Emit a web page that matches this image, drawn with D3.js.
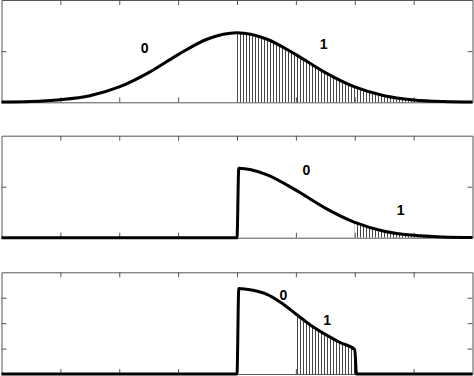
<!DOCTYPE html>
<html>
<head>
<meta charset="utf-8">
<script src="https://cdn.jsdelivr.net/npm/d3@7"></script>
<style>
  html, body { margin: 0; padding: 0; background: #fff; }
  svg { display: block; }
</style>
</head>
<body>
<script>
// shared x axis
const xDomain = [-4, 4];
const xTicks = [-3, -2, -1, 0, 1, 2, 3];

// panel 1: full bell curve, right half hatched
const p1X = [-4, -3.5, -3, -2.5, -2, -1.5, -1, -0.5, 0, 0.5, 1, 1.5, 2, 2.5, 3, 3.5, 4];
const p1Y = [0.002, 0.007, 0.025, 0.064, 0.15, 0.29, 0.466, 0.619, 0.68, 0.619, 0.466, 0.29, 0.15, 0.064, 0.023, 0.007, 0.002];
const p1Hatch = [0, 4];
const p1YTicks = [0.5];
const p1Labels = [{ t: "0", x: -1.57, y: 0.53 }, { t: "1", x: 1.47, y: 0.57 }];

// panel 2: truncated at 0, tail hatched
const p2X = [-4, 0, 0.03, 0.5, 1, 1.5, 2, 2.5, 3, 3.5, 4];
const p2Y = [0, 0, 0.68, 0.619, 0.466, 0.29, 0.15, 0.064, 0.023, 0.007, 0.002];
const p2Hatch = [2, 4];
const p2YTicks = [0.5];
const p2Labels = [{ t: "0", x: 1.18, y: 0.665 }, { t: "1", x: 2.78, y: 0.275 }];

// panel 3: truncated at 0 and 2, middle hatched
const p3X = [-4, 0, 0.03, 0.25, 0.5, 0.75, 1, 1.25, 1.5, 1.75, 2.0, 2.03, 4];
const p3Y = [0, 0, 0.84, 0.825, 0.785, 0.70, 0.59, 0.48, 0.39, 0.31, 0.24, 0, 0];
const p3Hatch = [1, 2.03];
const p3YTicks = [0.25, 0.5, 0.75];
const p3Labels = [{ t: "0", x: 0.79, y: 0.78 }, { t: "1", x: 1.53, y: 0.535 }];

const width = 474, height = 376;
const xLeft = 1.5, xRight = 472.5;

const panels = [
  { xs: p1X, ys: p1Y, hatch: p1Hatch, yTicks: p1YTicks, labels: p1Labels, top: 0, bottom: 102.3 },
  { xs: p2X, ys: p2Y, hatch: p2Hatch, yTicks: p2YTicks, labels: p2Labels, top: 135.7, bottom: 237.7 },
  { xs: p3X, ys: p3Y, hatch: p3Hatch, yTicks: p3YTicks, labels: p3Labels, top: 272.3, bottom: 374 }
];

const svg = d3.select("body").append("svg")
  .attr("width", width)
  .attr("height", height)
  .attr("viewBox", [0, 0, width, height]);

const defs = svg.append("defs");
const pat = defs.append("pattern")
  .attr("id", "vhatch")
  .attr("patternUnits", "userSpaceOnUse")
  .attr("width", 3)
  .attr("height", 10);
pat.append("line")
  .attr("x1", 0.5).attr("x2", 0.5)
  .attr("y1", 0).attr("y2", 10)
  .attr("stroke", "#444")
  .attr("stroke-width", 1);

const x = d3.scaleLinear().domain(xDomain).range([xLeft, xRight]);

panels.forEach((p, i) => {
  const y = d3.scaleLinear().domain([0, 1]).range([p.bottom, p.top]);
  const pts = p.xs.map((v, k) => [v, p.ys[k]]);
  const g = svg.append("g");

  // hatched region under the curve
  const clipId = "clip" + i;
  defs.append("clipPath").attr("id", clipId)
    .append("rect")
    .attr("x", x(p.hatch[0]))
    .attr("y", p.top)
    .attr("width", x(p.hatch[1]) - x(p.hatch[0]))
    .attr("height", p.bottom - p.top);

  const area = d3.area()
    .x(d => x(d[0]))
    .y0(y(0))
    .y1(d => y(d[1]))
    .curve(d3.curveMonotoneX);

  g.append("path")
    .datum(pts)
    .attr("d", area)
    .attr("fill", "url(#vhatch)")
    .attr("clip-path", `url(#${clipId})`);

  // box with inward ticks
  const axisStyle = sel => {
    sel.selectAll("path").attr("stroke", "#555").attr("stroke-width", 1);
    sel.selectAll("line").attr("stroke", "#555").attr("stroke-width", 1);
    sel.selectAll("text").remove();
  };
  g.append("g").attr("transform", `translate(0,${p.bottom})`)
    .call(d3.axisBottom(x).tickValues(xTicks).tickSizeInner(-5).tickSizeOuter(0).tickFormat(""))
    .call(axisStyle);
  g.append("g").attr("transform", `translate(0,${p.top})`)
    .call(d3.axisTop(x).tickValues(xTicks).tickSizeInner(-5).tickSizeOuter(0).tickFormat(""))
    .call(axisStyle);
  g.append("g").attr("transform", `translate(${xLeft},0)`)
    .call(d3.axisLeft(y).tickValues(p.yTicks).tickSizeInner(-5).tickSizeOuter(0).tickFormat(""))
    .call(axisStyle);
  g.append("g").attr("transform", `translate(${xRight},0)`)
    .call(d3.axisRight(y).tickValues(p.yTicks).tickSizeInner(-5).tickSizeOuter(0).tickFormat(""))
    .call(axisStyle);

  // the curve
  const line = d3.line()
    .x(d => x(d[0]))
    .y(d => y(d[1]))
    .curve(d3.curveMonotoneX);

  g.append("path")
    .datum(pts)
    .attr("d", line)
    .attr("fill", "none")
    .attr("stroke", "#000")
    .attr("stroke-width", 3)
    .attr("stroke-linejoin", "round");

  g.append("g")
    .selectAll("text")
    .data(p.labels)
    .join("text")
    .attr("x", d => x(d.x))
    .attr("y", d => y(d.y))
    .attr("text-anchor", "middle")
    .attr("dominant-baseline", "central")
    .style("font-family", "'Liberation Sans', Arial, sans-serif")
    .style("font-size", "14px")
    .style("font-weight", "bold")
    .text(d => d.t);
});
</script>
</body>
</html>
